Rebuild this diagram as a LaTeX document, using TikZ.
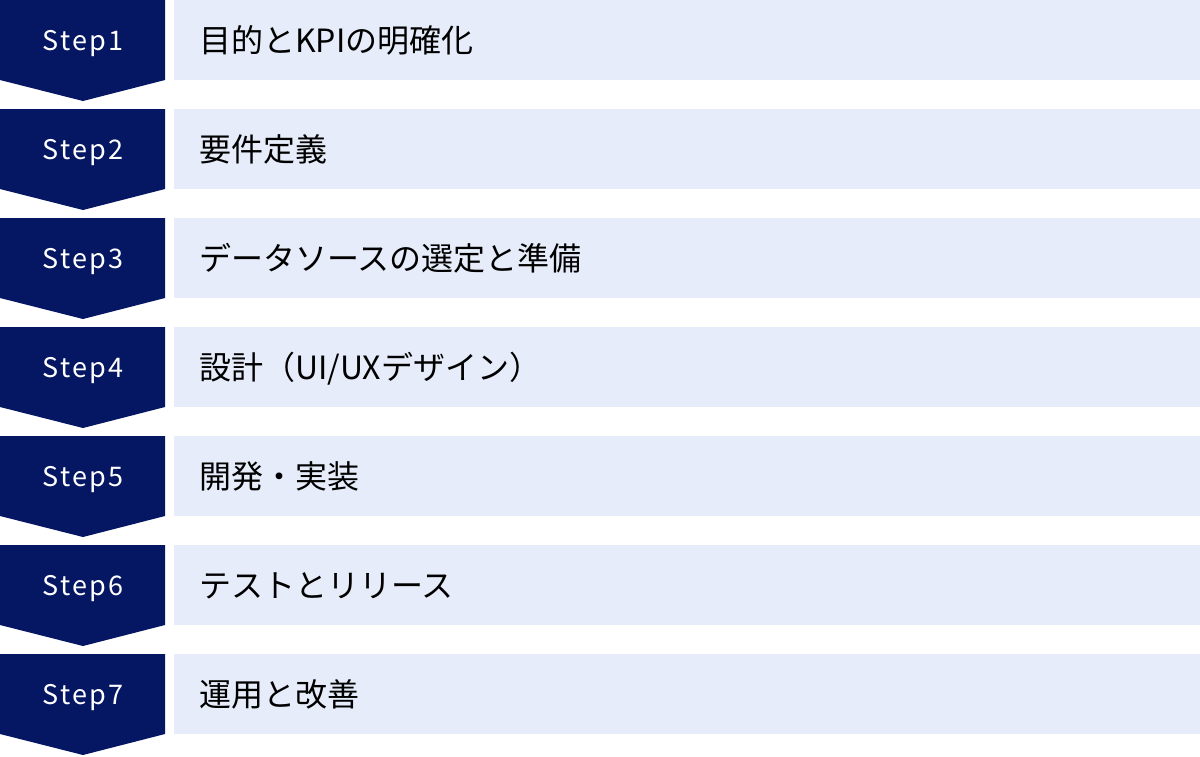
\documentclass[tikz,border=0pt]{standalone}
\usepackage{fontspec}
\setmainfont{Noto Sans CJK JP}
\newfontfamily\steplabelfont[LetterSpace=8]{Noto Sans CJK JP}
\usepackage{xcolor}
\definecolor{StepNavy}{RGB}{5,23,98}
\definecolor{TaskBlue}{RGB}{230,236,249}

\begin{document}
\begin{tikzpicture}[x=1pt, y=-1pt,
  chevron/.style={fill=StepNavy},
  taskbox/.style={fill=TaskBlue},
  steplabel/.style={text=white, anchor=base, inner sep=0pt, font=\steplabelfont\fontsize{27}{30}\selectfont},
  tasklabel/.style={anchor=base west, inner sep=0pt, font=\fontsize{32}{36}\selectfont}]
\useasboundingbox (0,0) rectangle (1200,756);
%
\foreach \task [count=\i from 0] in {目的とKPIの明確化, 要件定義, データソースの選定と準備,
    {設計（UI/UXデザイン）}, 開発・実装, テストとリリース, 運用と改善}{
  \pgfmathtruncatemacro{\n}{\i+1}
  % chevron on the left
  \fill[chevron] (0,109*\i) -- ++(165,0) -- ++(0,80) -- ++(-82,21) -- ++(-83,-21) -- cycle;
  \node[steplabel] (step\n) at (83,109*\i+50) {Step\n};
  % task band
  \fill[taskbox] (174,109*\i) rectangle ++(1026,80);
  \node[tasklabel] (task\n) at (199,109*\i+52) {\task};
}
\end{tikzpicture}
\end{document}
